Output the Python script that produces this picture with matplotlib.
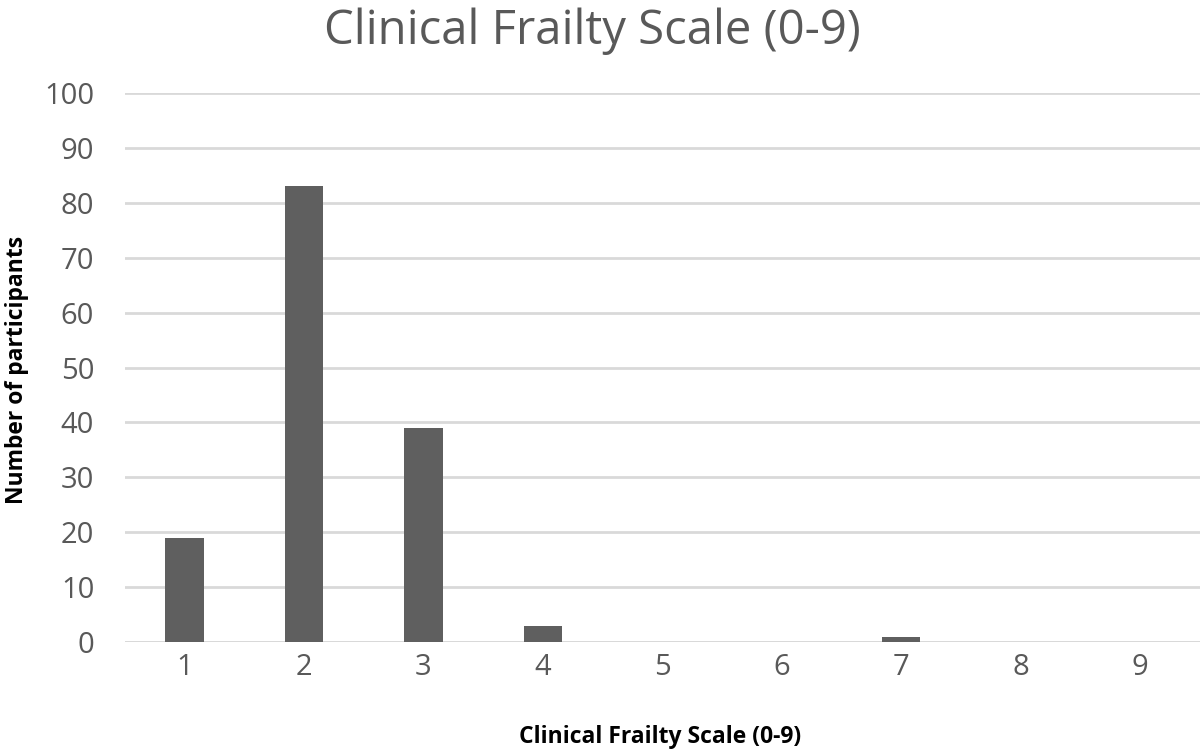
import matplotlib
matplotlib.use("Agg")
import matplotlib.pyplot as plt

# data
scores = ["1", "2", "3", "4", "5", "6", "7", "8", "9"]
participants = [19, 83, 39, 3, 0, 0, 1, 0, 0]
yticks = list(range(0, 101, 10))

plt.rcParams["font.family"] = ["Open Sans", "DejaVu Sans"]

fig = plt.figure(figsize=(12, 7.54), dpi=100)
ax = fig.add_axes([0.104, 0.1485, 0.896, 0.728])

x = list(range(len(scores)))
ax.bar(x, participants, width=0.32, color="#5f5f5f", zorder=3)

ax.set_xlim(-0.5, len(scores) - 0.5)
ax.set_ylim(0, 100)
ax.set_yticks(yticks)
ax.set_xticks(x)
ax.set_xticklabels(scores)
ax.grid(axis="y", color="#d9d9d9", linewidth=2, zorder=0)
ax.tick_params(length=0, labelsize=21, colors="#595959")
ax.tick_params(axis="y", pad=22)
ax.tick_params(axis="x", pad=8)
for s in ax.spines.values():
    s.set_visible(False)
ax.axhline(0, color="#d9d9d9", linewidth=2, zorder=1)

fig.text(0.494, 0.959, "Clinical Frailty Scale (0-9)", fontsize=34,
         color="#595959", ha="center", va="center")
ax.set_xlabel("Clinical Frailty Scale (0-9)", fontsize=16.5, fontweight="bold",
              va="center")
ax.set_ylabel("Number of participants", fontsize=16.5, fontweight="bold",
              va="center")
ax.xaxis.set_label_coords(0.498, -0.173)
ax.yaxis.set_label_coords(-0.1005, 0.495)

fig.savefig("out.png", dpi=100)
